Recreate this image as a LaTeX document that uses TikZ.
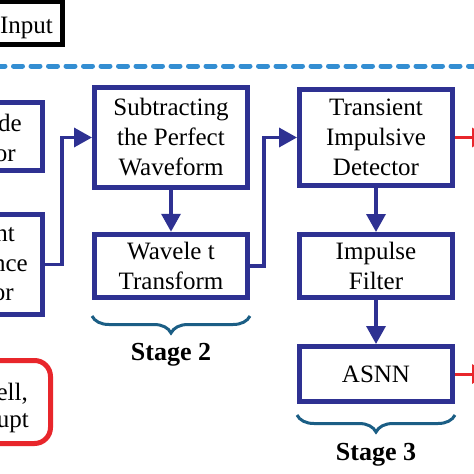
\documentclass[tikz,border=0pt]{standalone}
\usepackage{fontspec}
\setmainfont{Liberation Serif}
\usetikzlibrary{arrows.meta,decorations.pathreplacing}
\definecolor{boxblue}{RGB}{46,49,146}
\definecolor{dashblue}{RGB}{52,142,210}
\definecolor{redline}{RGB}{232,38,43}
\definecolor{braceteal}{RGB}{27,94,133}
\tikzset{
  blk/.style={draw=boxblue, line width=5pt, fill=white, minimum width=153pt, align=center, inner sep=0pt, font=\fontsize{25}{30}\selectfont},
  conn/.style={draw=boxblue, line width=3.5pt, -{Triangle[length=18pt,width=19pt]}},
  redconn/.style={draw=redline, line width=3pt, -{Triangle[length=18pt,width=19pt]}},
  txt/.style={inner sep=0pt, font=\fontsize{25}{30}\selectfont},
  stagebrace/.style={draw=braceteal, line width=3pt, decorate, decoration={brace, mirror, amplitude=17pt}},
  stagelbl/.style={inner sep=0pt, font=\fontsize{26}{30}\selectfont\bfseries}
}
\begin{document}
\begin{tikzpicture}[x=1pt, y=-1pt]
\useasboundingbox (0,0) rectangle (474,474);
\clip (0,0) rectangle (474,474);
\fill[white] (0,0) rectangle (474,474);
% Input box
\node[draw=black, line width=5pt, minimum width=130pt, minimum height=43.5pt, inner sep=0pt] (inbox) at (-2.5,22.75) {};
\node[txt, anchor=base east] (intxt) at (53,33) {Input};
% dashed separator
\coordinate (dl) at (-4,66);
\coordinate (dr) at (480,66);
\draw[dashblue, line width=5pt, line cap=round, dash pattern=on 9pt off 8.5pt] (dl) -- (dr);
% left clipped boxes
\node[blk, minimum width=100pt, minimum height=68pt] (A) at (-7.5,136.5) {};
\node[txt, anchor=base east] (a1) at (22,131) {de};
\node[txt, anchor=base east] (a2) at (16,161) {or};
\node[blk, minimum width=100pt, minimum height=100pt] (B) at (-7.5,264.5) {};
\node[txt, anchor=base east] (b1) at (15,241) {nt};
\node[txt, anchor=base east] (b2) at (28,271) {nce};
\node[txt, anchor=base east] (b3) at (14,300) {or};
\node[draw=redline, line width=5pt, rounded corners=16pt, minimum width=110pt, minimum height=83pt, inner sep=0pt] (R) at (-4.5,402) {};
\node[txt, anchor=base east] (r1) at (28,400) {ell,};
\node[txt, anchor=base east] (r2) at (29,427) {upt};
% stage 2
\node[blk, minimum height=100pt] (C) at (171,137.5) {Subtracting\\the Perfect\\Waveform};
\node[blk, minimum height=63.5pt] (D) at (171,266) {Wavele t\\Transform};
% stage 3
\node[blk, minimum height=96pt] (E) at (376,137.5) {Transient\\Impulsive\\Detector};
\node[blk, minimum height=63pt] (F) at (376,266) {Impulse\\Filter};
\node[blk, minimum height=55pt] (G) at (376,374) {ASNN};
% connectors
\draw[conn] (B.east) -- ++(17,0) |- (C.west);
\draw[conn] (C.south) -- (D.north);
\draw[conn] (D.east) -- ++(14,0) |- (E.west);
\draw[conn] (E.south) -- (F.north);
\draw[conn] (F.south) -- (G.north);
\coordinate (eout) at (490,137.5);
\coordinate (gout) at (490,374);
\draw[redconn] (E.east) -- (eout);
\draw[redconn] (G.east) -- (gout);
% braces
\coordinate (b2l) at (92,316);
\coordinate (b2r) at (250,316);
\coordinate (b3l) at (297,415);
\coordinate (b3r) at (455,415);
\draw[stagebrace] (b2l) -- (b2r);
\draw[stagebrace] (b3l) -- (b3r);
\node[stagelbl] (s2) at (171,355) {Stage 2};
\node[stagelbl] (s3) at (376,455) {Stage 3};
\end{tikzpicture}
\end{document}
